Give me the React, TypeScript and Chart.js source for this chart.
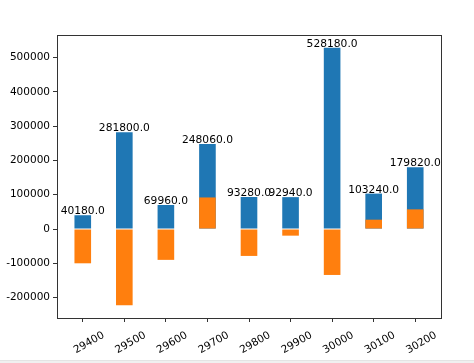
import React, { useEffect, useRef } from "react";
import { Chart, registerables } from "chart.js";

Chart.register(...registerables);

const binCenters = [29350, 29450, 29550, 29650, 29750, 29850, 29950, 30050, 30150];
const blueValues = [40180, 281800, 69960, 248060, 93280, 92940, 528180, 103240, 179820];
const orangeValues = [-100000, -222600, -90000, 92000, -78500, -19400, -134000, 27200, 57300];
const xTicks = [29400, 29500, 29600, 29700, 29800, 29900, 30000, 30100, 30200];
const yTicks = [-200000, -100000, 0, 100000, 200000, 300000, 400000, 500000];

const FONT = "'DejaVu Sans', sans-serif";

export default function App() {
  const ref = useRef<HTMLCanvasElement | null>(null);
  useEffect(() => {
    const frame = {
      id: "frame",
      afterDraw(chart: any) {
        const { ctx, chartArea: a } = chart;
        ctx.save();
        ctx.strokeStyle = "#333";
        ctx.lineWidth = 1;
        ctx.strokeRect(Math.round(a.left) + 0.5, Math.round(a.top) + 0.5, Math.round(a.right - a.left), Math.round(a.bottom - a.top));
        ctx.restore();
      },
    };
    const labels = {
      id: "valueLabels",
      afterDatasetsDraw(chart: any) {
        const { ctx } = chart;
        const xs = chart.scales.x;
        const ys = chart.scales.y;
        ctx.save();
        ctx.font = `10.7px ${FONT}`;
        ctx.fillStyle = "#000";
        ctx.textAlign = "center";
        ctx.textBaseline = "alphabetic";
        blueValues.forEach((v, i) => {
          ctx.fillText(v.toFixed(1), xs.getPixelForValue(binCenters[i]), ys.getPixelForValue(v) - 1);
        });
        ctx.restore();
      },
    };
    const chart = new Chart(ref.current!, {
      type: "bar",
      data: {
        datasets: [
          {
            label: "a",
            data: binCenters.map((x, i) => ({ x, y: blueValues[i] })),
            backgroundColor: "#1f77b4",
            order: 2,
            grouped: false,
            barPercentage: 0.4,
            categoryPercentage: 1,
          } as any,
          {
            label: "b",
            data: binCenters.map((x, i) => ({ x, y: orangeValues[i] })),
            backgroundColor: "#ff7f0e",
            order: 1,
            grouped: false,
            barPercentage: 0.4,
            categoryPercentage: 1,
          } as any,
        ],
      },
      options: {
        animation: false,
        responsive: false,
        layout: { padding: { top: 35, right: 33, left: 0, bottom: 0 } },
        plugins: { legend: { display: false }, tooltip: { enabled: false } },
        scales: {
          x: {
            type: "linear",
            min: 29288,
            max: 30212,
            offset: false,
            afterBuildTicks: (s: any) => {
              s.ticks = xTicks.map((v) => ({ value: v }));
            },
            afterFit: (s: any) => {
              s.height = 45;
            },
            grid: { display: true, drawOnChartArea: false, drawTicks: true, tickLength: 4, color: "#333" },
            border: { display: false },
            ticks: {
              autoSkip: false,
              minRotation: 30,
              maxRotation: 30,
              padding: 7,
              color: "#000",
              font: { family: FONT, size: 10.5 },
              callback: (v: any) => String(v),
            },
          },
          y: {
            type: "linear",
            min: -259500,
            max: 565700,
            afterBuildTicks: (s: any) => {
              s.ticks = yTicks.map((v) => ({ value: v }));
            },
            afterFit: (s: any) => {
              s.width = 57;
            },
            grid: { display: true, drawOnChartArea: false, drawTicks: true, tickLength: 4, color: "#333" },
            border: { display: false },
            ticks: {
              padding: 3,
              color: "#000",
              font: { family: FONT, size: 10.5 },
              callback: (v: any) => String(v),
            },
          },
        },
      },
      plugins: [frame, labels],
    } as any);
    return () => chart.destroy();
  }, []);
  return (
    <div style={{ position: "fixed", left: 0, top: 0, width: 474, height: 363, background: "#fff" }}>
      <canvas ref={ref} width={474} height={363} style={{ width: 474, height: 363, display: "block" }} />
      <div style={{ position: "absolute", left: 0, top: 360, width: 474, height: 3, background: "#f0f0f0", borderTop: "1px solid #e4e4e4" }} />
    </div>
  );
}
